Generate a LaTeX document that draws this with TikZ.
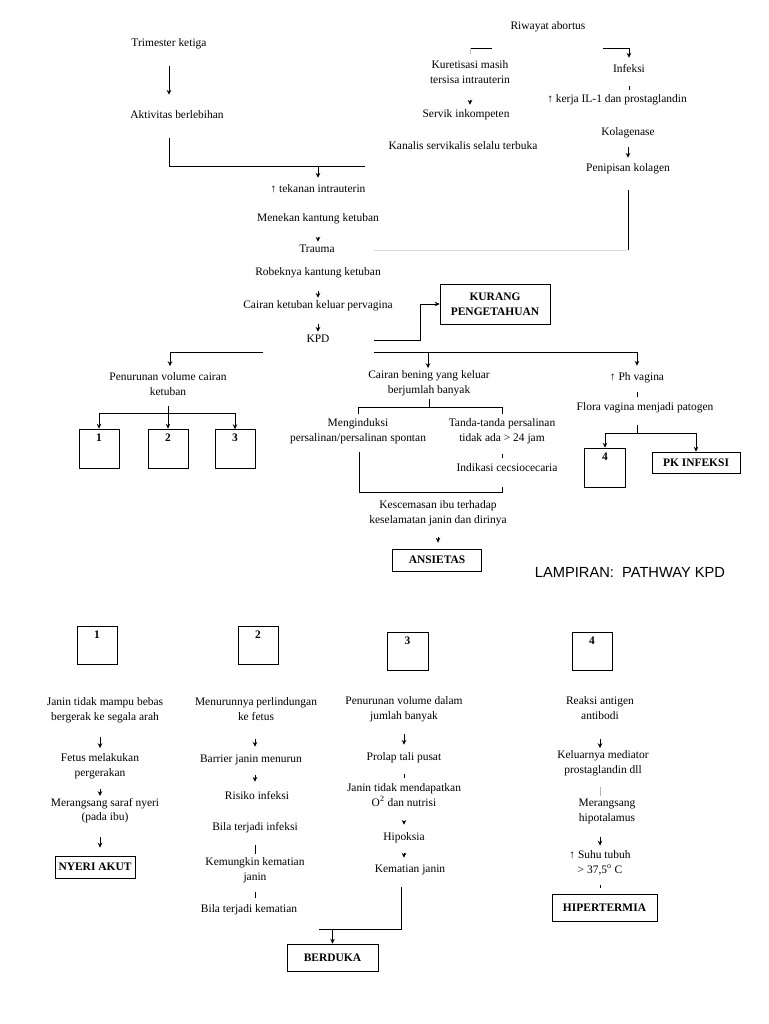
\documentclass[tikz,border=0pt]{standalone}
\usepackage{fontspec}
\setmainfont{Liberation Serif}
\newfontfamily\lampfont{Liberation Sans}
\usetikzlibrary{arrows.meta}
\tikzset{
  txt/.style={font=\fontsize{8.6}{11}\selectfont, align=center, inner sep=0.5pt,
    execute at begin node=\strut, execute at end node=\strut},
  bx/.style={draw, line width=0.6pt, font=\bfseries\fontsize{8.6}{11}\selectfont, align=center, inner sep=0pt},
  numbox/.style={draw, line width=0.6pt, minimum width=30pt, minimum height=29.25pt, inner sep=0pt},
  numlab/.style={anchor=north, font=\bfseries\fontsize{8.6}{11}\selectfont, inner sep=0pt, yshift=-3.5pt},
  ln/.style={line width=0.6pt},
  arr/.style={line width=0.6pt, -{Stealth[length=3.6pt,width=3.4pt]}},
}
\begin{document}
\begin{tikzpicture}[x=0.75pt,y=-0.75pt]
\fill[white] (0,0) rectangle (768,1024);
\useasboundingbox (0,0) rectangle (768,1024);

% ---------- top part ----------
\node[txt] (trim) at (169,44) {Trimester ketiga};
\node[txt] (akt) at (177,116) {Aktivitas berlebihan};
\node[txt] (riw) at (548,27) {Riwayat abortus};
\node[txt] (kt) at (470,74.5) {Kuretisasi masih\\tersisa intrauterin};
\node[txt] (serv) at (466,115) {Servik inkompeten};
\node[txt] (kan) at (463,147) {Kanalis servikalis selalu terbuka};
\node[txt] (inf) at (629,70) {Infeksi};
\node[txt] (ker) at (617,100) {↑ kerja IL-1 dan prostaglandin};
\node[txt] (kol) at (628,133) {Kolagenase};
\node[txt] (pk2) at (628,169) {Penipisan kolagen};
\node[txt] (tek) at (318,190) {↑ tekanan intrauterin};
\node[txt] (mkk) at (318,219) {Menekan kantung ketuban};
\node[txt] (tra) at (317,250) {Trauma};
\node[txt] (rkk) at (318,273) {Robeknya kantung ketuban};
\node[txt] (ckp) at (318,306) {Cairan ketuban keluar pervagina};
\node[txt] (kpd) at (318,340) {KPD};
\node[bx, minimum width=82.5pt, minimum height=30pt] (kur) at (495,304) {KURANG\\PENGETAHUAN};

\node[txt] (pvc) at (168,386.5) {Penurunan volume cairan\\ketuban};
\node[numbox, label={[numlab]north:1}] (t1) at (99,448.5) {};
\node[numbox, label={[numlab]north:2}] (t2) at (168,448.5) {};
\node[numbox, label={[numlab]north:3}] (t3) at (235,449) {};

\node[txt] (cb) at (429,384.5) {Cairan bening yang keluar\\berjumlah banyak};
\node[txt] (mi) at (358,432.5) {Menginduksi\\persalinan/persalinan spontan};
\node[txt] (td) at (502,432.5) {Tanda-tanda persalinan\\tidak ada > 24 jam};
\node[txt] (ind) at (507,469) {Indikasi cecsiocecaria};
\node[txt] (kes) at (438,514.5) {Kescemasan ibu terhadap\\keselamatan janin dan dirinya};
\node[bx, minimum width=66.75pt, minimum height=16.5pt] (ans) at (437,560) {ANSIETAS};

\node[txt] (ph) at (637,378) {↑ Ph vagina};
\node[txt] (fl) at (645,408) {Flora vagina menjadi patogen};
\node[numbox, minimum width=30.75pt, label={[numlab]north:4}] (t4) at (605,467.5) {};
\node[bx, minimum width=66pt, minimum height=15.75pt] (pk) at (696,462.5) {PK INFEKSI};

\node[font=\lampfont\fontsize{11}{13}\selectfont, inner sep=0pt] (lam) at (630,572) {LAMPIRAN:\ \ PATHWAY KPD};

% connectors top
\draw[arr, shorten <=10.5pt, shorten >=9.75pt] (trim.south) -- (trim.south |- akt.north);
\coordinate (j1) at (318,166);
\coordinate (j1e) at (365,166);
\draw[ln, shorten <=10.5pt] (trim.south |- akt.south) |- (j1e);
\draw[arr, shorten >=3pt] (j1) -- (tek.north);
\draw[arr, shorten <=7.5pt] (mkk.south) -- (mkk.south |- tra.north);
\draw[arr, shorten <=7.5pt] (rkk.south) -- (rkk.south |- ckp.north);
\draw[arr, shorten <=7.5pt] (ckp.south) -- (ckp.south |- kpd.north);
\coordinate (kk) at (420,340);
\draw[arr, shorten <=33pt] (kpd.east) -- (kk) |- (kur.west);

\coordinate (rl) at (492,48);
\coordinate (rr) at (603,48);
\draw[ln] (rl) -- (rl -| kt.north);
\draw[ln, gray!50, shorten >=4.5pt] (rl -| kt.north) -- (kt.north);
\draw[arr, shorten >=3pt] (rr) -| (inf.north);
\draw[arr, shorten <=8.25pt, shorten >=1.5pt] (kt.south) -- (kt.south |- serv.north);
\draw[ln, shorten <=6pt, shorten >=1.5pt] (inf.south) -- (inf.south |- ker.north);
\draw[arr, shorten <=4.5pt, shorten >=2.25pt] (kol.south) -- (kol.south |- pk2.north);
\coordinate (pv) at (628,250);
\coordinate (pvl) at (374,250);
\draw[ln, shorten <=9.75pt] (pk2.south) -- (pv);
\draw[ln, gray!30] (pv) -- (pvl);

\coordinate (kL) at (170,352);
\coordinate (kLe) at (263,352);
\coordinate (kRs) at (374,352);
\coordinate (kM) at (428,352);
\coordinate (kR) at (637,352);
\draw[ln] (kL) -- (kLe);
\draw[ln] (kRs) -- (kR);
\draw[arr, shorten >=4.5pt] (kL) -- (kL |- pvc.north);
\draw[arr, shorten >=1.5pt] (kM) -- (kM |- cb.north);
\draw[arr, shorten >=3pt] (kR) -- (kR |- ph.north);

\coordinate (pj) at (168,413);
\draw[ln, shorten <=3.5pt] (pvc.south) -- (pj);
\draw[ln] (pj -| t1) -- (pj -| t3);
\draw[arr] (pj -| t1) -- (t1.north);
\draw[arr] (pj -| t2) -- (t2.north);
\draw[arr] (pj -| t3) -- (t3.north);

\coordinate (cj) at (429,407);
\draw[ln] (cb.south) -- (cj);
\draw[ln] (cj -| mi) -- (cj -| td);
\draw[ln, shorten >=3pt] (cj -| mi) -- (mi.north);
\draw[ln, shorten >=3pt] (cj -| td) -- (td.north);
\draw[ln, shorten <=5.25pt, shorten >=2.25pt] (td.south) -- (td.south |- ind.north);
\coordinate (brL) at (359,492);
\draw[ln, shorten <=3.75pt, shorten >=7.5pt] (mi.south -| brL) -- (brL) -- (brL -| td.south) -- (td.south |- ind.south);
\draw[arr, shorten <=6pt, shorten >=4.5pt] (kes.south) -- (kes.south |- ans.north);

\draw[ln, shorten <=4.5pt, shorten >=2.25pt] (ph.south) -- (ph.south |- fl.north);
\coordinate (fj) at (637,433);
\draw[ln, shorten <=6.75pt] (fl.south -| fj) -- (fj);
\draw[ln] (fj -| t4) -- (fj -| pk);
\draw[arr] (fj -| t4) -- (t4.north);
\draw[arr] (fj -| pk) -- (pk.north);

% ---------- bottom part ----------
\node[numbox, minimum height=28.5pt, label={[numlab]north:1}] (u1) at (97,645.5) {};
\node[numbox, minimum height=28.5pt, label={[numlab]north:2}] (u2) at (258,645.5) {};
\node[numbox, minimum height=28.5pt, minimum width=30.75pt, label={[numlab]north:3}] (u3) at (407.5,651) {};
\node[numbox, minimum height=28.5pt, label={[numlab]north:4}] (u4) at (592,651) {};

\node[txt] (jt) at (105,711.5) {Janin tidak mampu bebas\\bergerak ke segala arah};
\node[txt] (fm) at (100,767.5) {Fetus melakukan\\pergerakan};
\node[txt] (ms) at (105,811.5) {Merangsang saraf nyeri\\(pada ibu)};
\node[bx, minimum width=60pt, minimum height=16.5pt] (na) at (95,867) {NYERI AKUT};

\node[txt] (mp) at (256,711.5) {Menurunnya perlindungan\\ke fetus};
\node[txt] (bj) at (251,760) {Barrier janin menurun};
\node[txt] (ri) at (257,797) {Risiko infeksi};
\node[txt] (bti) at (255,828) {Bila terjadi infeksi};
\node[txt] (kmj) at (255,871.5) {Kemungkin kematian\\janin};
\node[txt] (btk) at (249,910) {Bila terjadi kematian};

\node[txt] (pvd) at (404,710.5) {Penurunan volume dalam\\jumlah banyak};
\node[txt] (pts) at (404,758) {Prolap tali pusat};
\node[txt] (jtm) at (404,797.5) {Janin tidak mendapatkan\\O\textsuperscript{2} dan nutrisi};
\node[txt] (hip) at (404,838) {Hipoksia};
\node[txt] (kmt) at (410,870) {Kematian janin};
\node[bx, minimum width=68.25pt, minimum height=20.25pt] (ber) at (332.5,957.5) {BERDUKA};

\node[txt] (ra) at (600,710.5) {Reaksi antigen\\antibodi};
\node[txt] (kmd) at (603,764.5) {Keluarnya mediator\\prostaglandin dll};
\node[txt] (mh) at (607,812.5) {Merangsang\\hipotalamus};
\node[txt] (st) at (600,864) {↑ Suhu tubuh\\> 37,5\textsuperscript{o} C};
\node[bx, minimum width=78.75pt, minimum height=20.25pt] (hp) at (604.5,907.5) {HIPERTERMIA};

% connectors bottom
\draw[arr, shorten <=8.25pt, shorten >=3.75pt] (jt.south -| fm) -- (fm.north);
\draw[arr, shorten <=5.25pt, shorten >=0.75pt] (fm.south) -- (fm.south |- ms.north);
\draw[arr, shorten <=8.25pt, shorten >=6pt] (ms.south -| fm) -- (fm |- na.north);

\draw[arr, shorten <=9.75pt, shorten >=3.75pt] (mp.south -| bti) -- (bti |- bj.north);
\draw[arr, shorten <=5.25pt, shorten >=5.25pt] (bj.south -| bti) -- (bti |- ri.north);
\draw[ln, shorten <=6.75pt, shorten >=2.25pt] (bti.south) -- (kmj.north);
\draw[ln, shorten <=4.5pt, shorten >=3pt] (kmj.south) -- (kmj.south |- btk.north);

\draw[arr, shorten <=6.75pt, shorten >=3.75pt] (pvd.south) -- (pvd.south |- pts.north);
\draw[ln, shorten <=6pt, shorten >=3.75pt] (pts.south) -- (pts.south |- jtm.north);
\draw[arr, shorten <=6.75pt, shorten >=3.75pt] (jtm.south) -- (jtm.south |- hip.north);
\draw[arr, shorten <=5.25pt, shorten >=3pt] (hip.south) -- (hip.south |- kmt.north);
\coordinate (bd) at (401,929);
\coordinate (bdl) at (319,929);
\draw[ln, shorten <=6.75pt] (kmt.south -| bd) -- (bd) -- (bdl);
\draw[arr] (bdl -| ber) -- (ber.north);

\draw[arr, shorten <=10.5pt, shorten >=1.5pt] (ra.south) -- (ra.south |- kmd.north);
\draw[ln, gray!60, shorten <=6pt, shorten >=1.5pt] (kmd.south -| ra) -- (ra |- mh.north);
\draw[arr, shorten <=7.5pt, shorten >=3pt] (mh.south -| ra) -- (ra |- st.north);
\draw[ln, shorten <=5pt, shorten >=4.5pt] (st.south) -- (st.south |- hp.north);
\end{tikzpicture}
\end{document}
